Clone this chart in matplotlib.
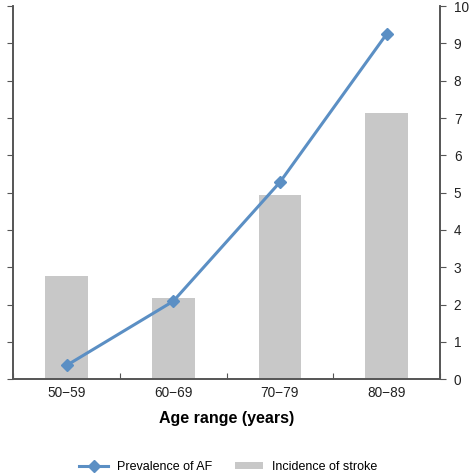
import matplotlib
matplotlib.use("Agg")
import matplotlib.pyplot as plt
import numpy as np

plt.rcParams['font.family'] = ['Liberation Sans', 'DejaVu Sans']

categories = ["50\u221259", "60\u221269", "70\u221279", "80\u221289"]
stroke_incidence = [2.76, 2.17, 4.93, 7.13]
af_prevalence = [0.37, 2.09, 5.28, 9.25]
yticks = list(range(0, 11))

fig = plt.figure(figsize=(4.74, 4.74), dpi=100)
ax = fig.add_axes([0.028, 0.2, 0.9, 0.787])
x = np.arange(len(categories))
bars = ax.bar(x, stroke_incidence, width=0.4, color='#c8c8c8', label='Incidence of stroke', zorder=1)
ax.set_ylim(0, 10)
ax.set_xlim(-0.5, len(categories) - 0.5)
ax.set_yticks(yticks)
ax.set_yticklabels([])
ax.set_xticks(np.arange(len(categories) + 1) - 0.5)
ax.set_xticklabels([])
ax.set_xticks(x, minor=True)
ax.set_xticklabels(categories, minor=True, fontsize=9.8, color='#222222')
ax.tick_params(axis='x', which='minor', length=0, pad=5)
ax.tick_params(axis='x', which='major', length=4, direction='in', color='#555555')
ax.tick_params(axis='y', length=4, direction='out', color='#555555')
for s in ['left', 'bottom', 'right']:
    ax.spines[s].set_color('#555555')
    ax.spines[s].set_linewidth(1.2)
ax.spines['top'].set_visible(False)
ax.set_xlabel('Age range (years)', fontsize=11.5, fontweight='bold', labelpad=8)

ax2 = ax.twinx()
line, = ax2.plot(x, af_prevalence, color='#5b8fc4', lw=2.2, marker='D', markersize=6,
                 markerfacecolor='#5b8fc4', markeredgecolor='#5b8fc4', label='Prevalence of AF', zorder=3)
ax2.set_ylim(0, 10)
ax2.set_yticks(yticks)
ax2.set_yticklabels([str(v) for v in yticks], fontsize=9.8, color='#222222')
ax2.tick_params(axis='y', length=4, direction='out', color='#555555', pad=6)
for s in ['left', 'bottom', 'right']:
    ax2.spines[s].set_color('#555555')
    ax2.spines[s].set_linewidth(1.2)
ax2.spines['top'].set_visible(False)

fig.legend([line, bars], ['Prevalence of AF', 'Incidence of stroke'], loc='center',
           bbox_to_anchor=(0.482, 0.015), ncol=2, frameon=False, fontsize=9,
           handlelength=2.3, handleheight=0.6, columnspacing=1.8, handletextpad=0.7)

fig.savefig('out.png', dpi=100)
